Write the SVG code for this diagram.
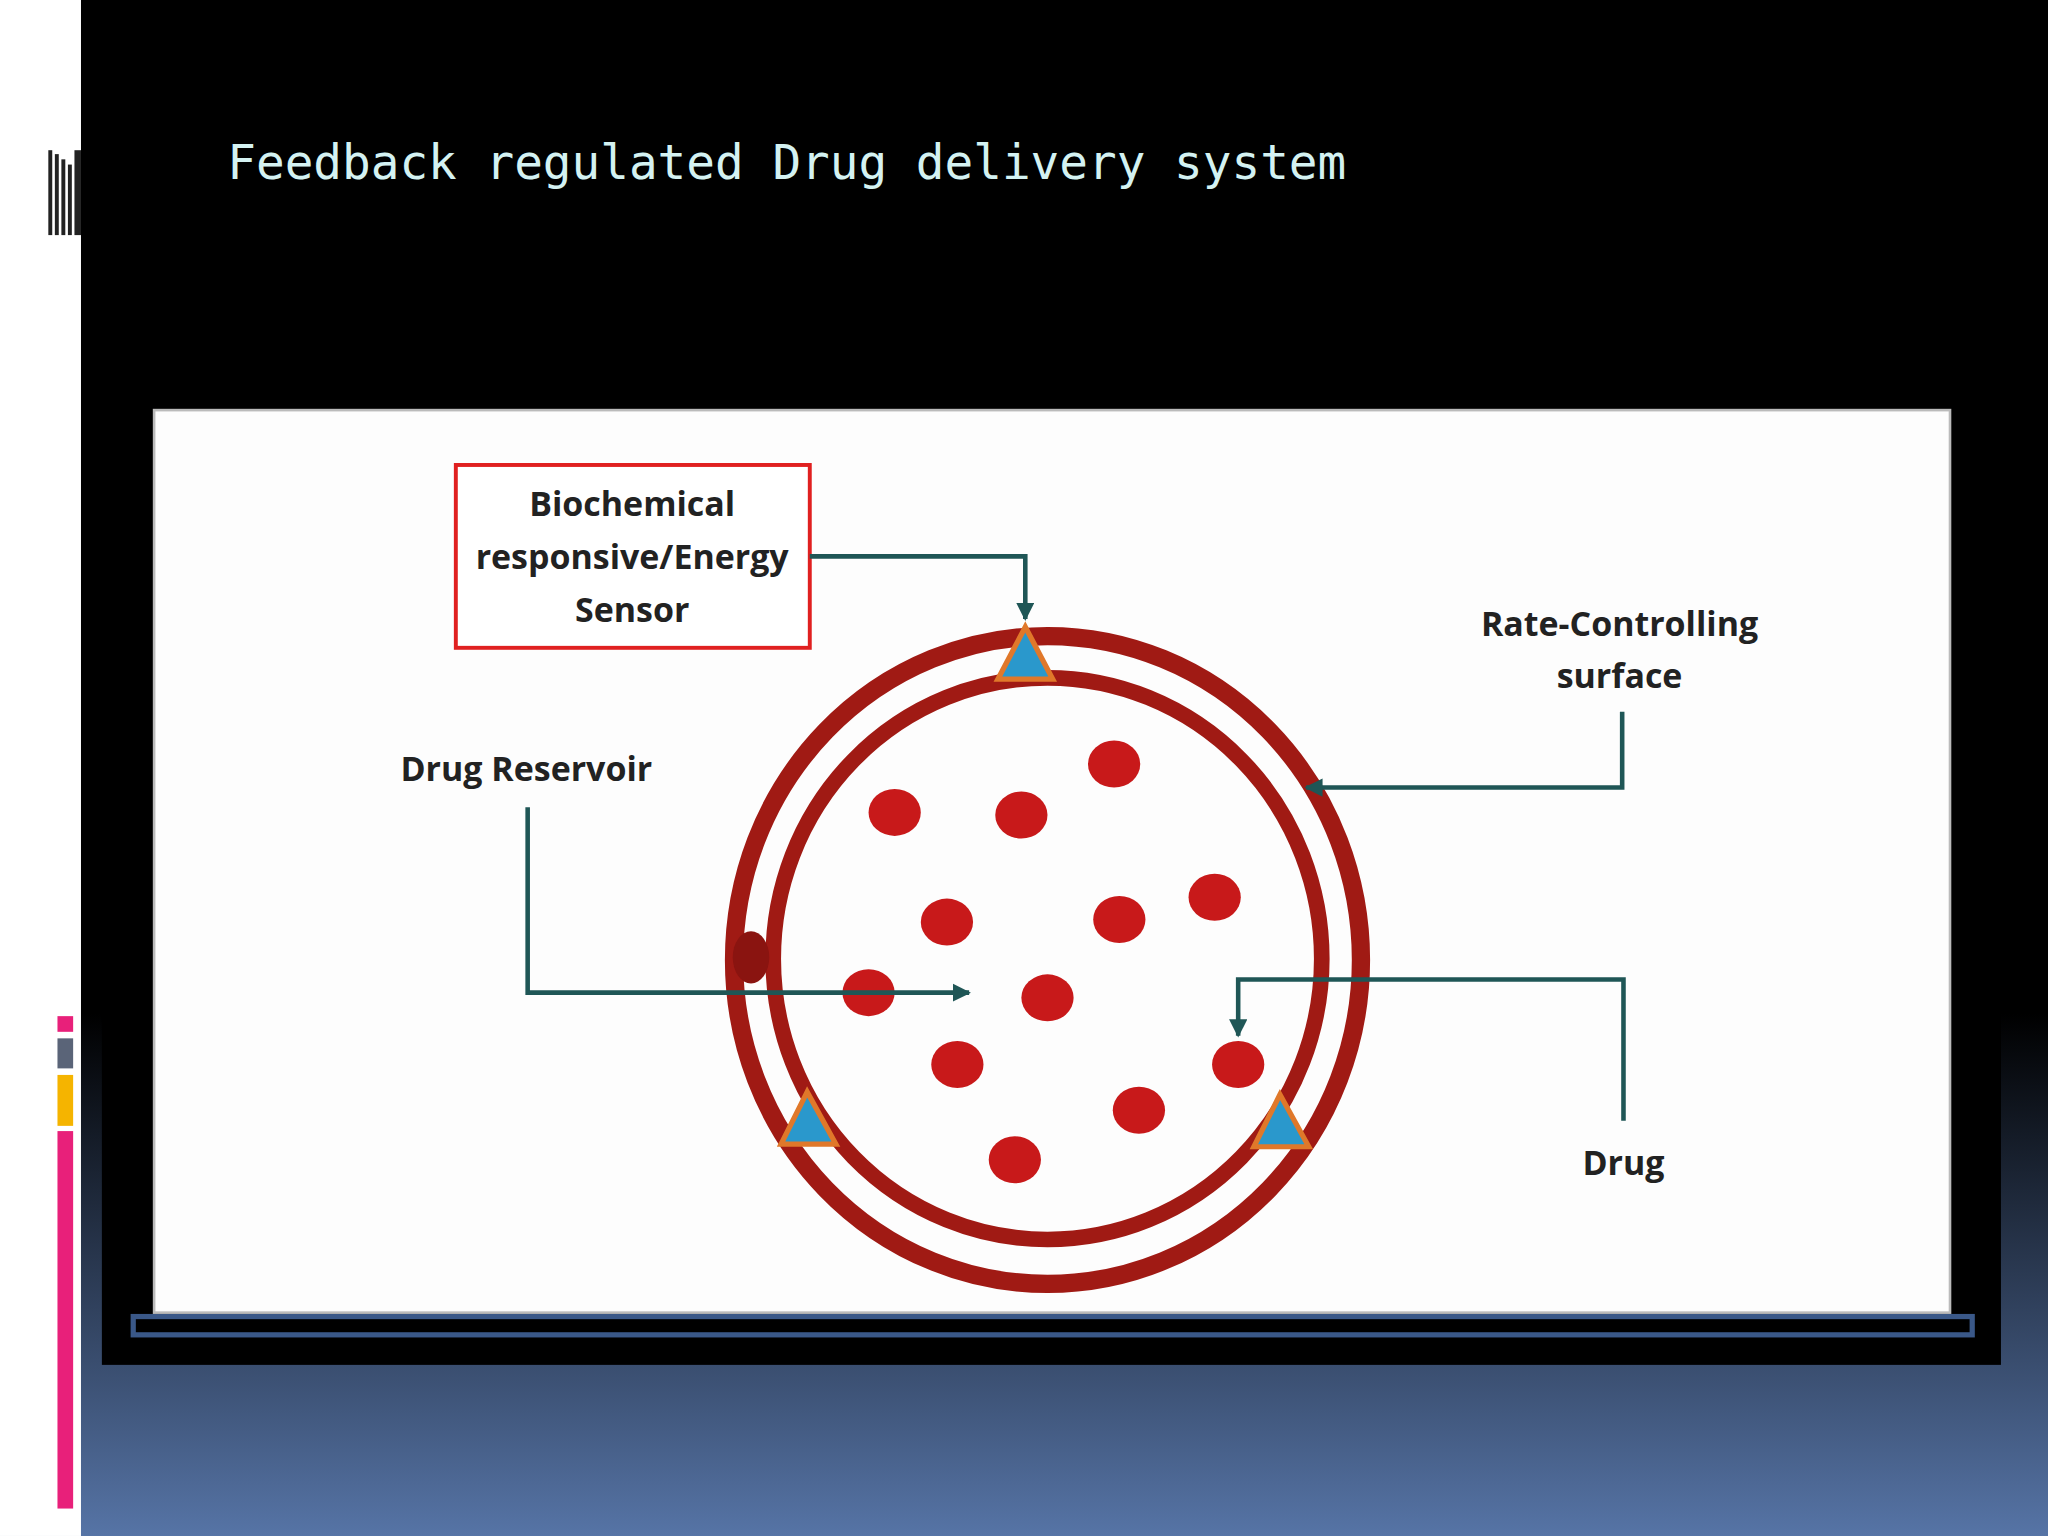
<svg xmlns="http://www.w3.org/2000/svg" width="2048" height="1536" viewBox="0 0 2048 1536">
<defs>
<linearGradient id="bg" x1="0" y1="0" x2="0" y2="1">
<stop offset="0" stop-color="#000"/><stop offset="0.66" stop-color="#000"/><stop offset="1" stop-color="#5674a6"/>
</linearGradient>
<marker id="ah" viewBox="0 0 10 10" refX="9" refY="5" markerWidth="4" markerHeight="4" orient="auto"><path d="M0,0 L10,5 L0,10 z" fill="#1f5656"/></marker>
<style>
.lbl{font-family:"Open Sans","Liberation Sans",sans-serif;font-weight:bold;font-size:26px;fill:#222;text-anchor:middle}
.con{fill:none;stroke:#1f5656;stroke-width:3.5;marker-end:url(#ah)}
.dot{fill:#c8191a}
.tri{fill:#2a98cc;stroke:#e0782a;stroke-width:4}
</style>
</defs>
<rect width="2048" height="1536" fill="url(#bg)"/>
<g transform="scale(1.3061)">
<rect x="0" y="0" width="62" height="1176" fill="#fff"/>
<g fill="#222"><rect x="37" y="115" width="3" height="65"/><rect x="42" y="118" width="3" height="62"/><rect x="47" y="122" width="3" height="58"/><rect x="52" y="126" width="3" height="54"/><rect x="57" y="115" width="5" height="65"/></g>
<rect x="44" y="778" width="12" height="12" fill="#e8207a"/>
<rect x="44" y="795" width="12" height="23" fill="#5a6478"/>
<rect x="44" y="823" width="12" height="39" fill="#f5b400"/>
<rect x="44" y="866" width="12" height="289" fill="#e8207a"/>
<rect x="78" y="0" width="1454" height="1045" fill="#000"/>
<rect x="102" y="1008" width="1408" height="14" fill="none" stroke="#3a5888" stroke-width="4"/>
<text x="174" y="137" font-family="DejaVu Sans Mono, Liberation Mono, monospace" font-size="36.5" fill="#d4f2f2">Feedback regulated Drug delivery system</text>
<rect x="118" y="314" width="1375" height="691" fill="#fdfdfd" stroke="#bbb" stroke-width="2"/>
<g id="circle">
<ellipse cx="802" cy="735" rx="240" ry="248" fill="none" stroke="#a01a14" stroke-width="14"/>
<ellipse cx="802" cy="734" rx="210" ry="215" fill="none" stroke="#a01a14" stroke-width="12"/>
<ellipse cx="575" cy="733" rx="14" ry="20" fill="#8a1410"/>
</g>
<g id="drugs">
<ellipse class="dot" cx="685" cy="622" rx="20" ry="18"/><ellipse class="dot" cx="782" cy="624" rx="20" ry="18"/>
<ellipse class="dot" cx="853" cy="585" rx="20" ry="18"/><ellipse class="dot" cx="725" cy="706" rx="20" ry="18"/>
<ellipse class="dot" cx="857" cy="704" rx="20" ry="18"/><ellipse class="dot" cx="930" cy="687" rx="20" ry="18"/>
<ellipse class="dot" cx="665" cy="760" rx="20" ry="18"/><ellipse class="dot" cx="802" cy="764" rx="20" ry="18"/>
<ellipse class="dot" cx="733" cy="815" rx="20" ry="18"/><ellipse class="dot" cx="948" cy="815" rx="20" ry="18"/>
<ellipse class="dot" cx="872" cy="850" rx="20" ry="18"/><ellipse class="dot" cx="777" cy="888" rx="20" ry="18"/>
</g>
<g id="sensors">
<polygon class="tri" points="785,480 764,520 806,520"/>
<polygon class="tri" points="618,836 598,876 640,876"/>
<polygon class="tri" points="980,838 960,878 1002,878"/>
</g>
<g id="sensor">
<rect x="349" y="356" width="271" height="140" fill="#fff" stroke="#e02020" stroke-width="3"/>
<text class="lbl" x="484" y="395">Biochemical</text>
<text class="lbl" x="484" y="436">responsive/Energy</text>
<text class="lbl" x="484" y="476">Sensor</text>
</g>
<g id="labels">
<text class="lbl" x="1240" y="487">Rate-Controlling</text>
<text class="lbl" x="1240" y="527">surface</text>
<text class="lbl" x="403" y="598">Drug Reservoir</text>
<text class="lbl" x="1243" y="900">Drug</text>
</g>
<g id="connectors">
<path class="con" d="M620,426 H785 V474"/>
<path class="con" d="M1242,545 V603 H1000"/>
<path class="con" d="M404,618 V760 H742"/>
<path class="con" d="M1243,858 V750 H948 V793"/>
</g>
</g>
</svg>
